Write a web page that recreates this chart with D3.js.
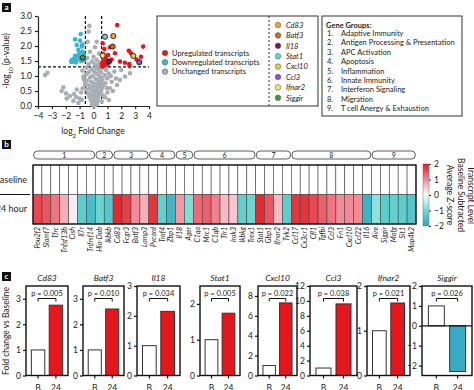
<!DOCTYPE html>
<html><head><meta charset="utf-8">
<script src="https://cdnjs.cloudflare.com/ajax/libs/d3/7.8.5/d3.min.js"></script>
<style>
body{margin:0;background:#fff;}
svg{display:block;font-family:Lato,"Open Sans",sans-serif;}
</style></head><body>
<svg id="fig" width="474" height="390"></svg>
<script>
// ---- panel a: volcano data (log2 FC, -log10 p) ----
var upPts = [[1.71,2.70],[0.66,2.09],[1.19,1.96],[2.55,1.84],[2.70,1.76],[3.58,1.98],[3.42,1.64],[1.91,1.48],[2.27,1.44],[2.58,1.40],[2.6,1.33],[1.55,1.76],[0.7,1.5],[0.8,1.42],[0.75,1.35],[0.9,1.55],[0.65,1.32],[1.0,1.38],[0.85,1.62],[0.95,1.45],[0.7,1.72],[1.3,1.55],[3.1,1.55],[0.78,1.9],[1.05,1.7],[0.6,1.4]];
var downPts = [[-0.92,2.40],[-1.33,2.22],[-0.97,2.18],[-1.21,2.03],[-0.85,1.98],[-1.09,1.87],[-0.78,1.81],[-1.0,1.76],[-1.33,1.67],[-1.57,1.53],[-1.45,1.48],[-1.2,1.56],[-0.97,1.6],[-0.65,1.53],[-1.1,1.7],[-1.4,1.58],[-0.7,1.72],[-1.25,1.45],[-0.9,1.5],[-0.8,2.05],[-1.6,1.47]];
var nsPts = [[0.0,0.02],[0.1,0.03],[0.2,0.05],[-0.1,0.06],[0.05,0.1],[0.15,0.12],[0.25,0.08],[-0.05,0.15],[0.3,0.18],[-0.2,0.2],[0.1,0.2],[0.2,0.25],
  [-0.3,0.3],[0.35,0.3],[0.0,0.32],[-0.15,0.35],[0.15,0.38],[0.45,0.4],[-0.4,0.42],[0.25,0.45],[-0.1,0.48],[0.05,0.5],[0.55,0.48],
  [-0.5,0.55],[0.3,0.55],[-0.25,0.58],[0.6,0.6],[0.15,0.62],[-0.05,0.65],[0.45,0.66],[-0.35,0.68],[0.7,0.7],[0.25,0.72],[-0.6,0.72],[0.05,0.75],[0.5,0.78],[-0.15,0.8],[0.85,0.76],
  [-0.45,0.85],[0.35,0.85],[0.65,0.88],[-0.7,0.9],[0.15,0.9],[1.0,0.92],[-0.25,0.95],[0.45,0.97],[-0.05,1.0],[0.8,1.02],[-0.55,1.05],[0.25,1.07],[1.1,1.08],[0.55,1.12],[-0.35,1.12],[0.05,1.15],[-0.8,1.18],[0.4,1.2],[0.9,1.2],[-0.15,1.22],[0.2,1.25],[-0.5,1.28],[0.65,1.28],
  [-0.3,2.67],[-0.35,2.48],[-0.42,2.14],[0.23,2.14],[0.11,1.96],[-0.25,1.81],[0.0,1.64],[0.23,1.53],[-0.35,1.40],[0.4,1.75],[-0.1,1.48],[0.3,1.35],[0.1,1.38],[-0.45,1.6],[0.45,1.45],
  [-3.49,1.03],[-3.32,1.11],[-2.17,0.62],[-2.3,0.5],[-1.98,0.42],[-1.69,0.33],[-1.4,0.4],[-1.26,0.3],[-1.0,0.25],[-1.93,0.25],[-1.45,0.17],[-1.09,0.1],[-0.78,0.59],[-0.61,0.81],[-0.73,0.98],[-0.9,0.45],[-1.2,0.55],[-0.85,0.2],
  [1.31,0.81],[1.62,0.92],[1.9,0.87],[2.27,0.98],[1.7,0.7],[1.18,0.59],[1.0,0.45],[1.4,0.5],[0.83,0.29],[2.63,1.09],[0.95,0.6],[1.25,1.0],[1.5,1.15],[0.7,0.35],[2.0,1.2],[1.1,0.2],[0.6,0.15]];
var hlGenes = ["Cd83","Batf3","Il18","Stat1","Cxcl10","Ccl3","Ifnar2","Siggir"];
var hlColors = ["#f5a23a","#d06a1e","#7a1452","#62d6c8","#c9d64a","#8a4fd6","#f2e468","#3f9b3a"];
var hlLogFC = [1.43,1.38,1.12,0.83,2.87,3.30,0.66,-0.78];
var hlLogP = [2.33,1.98,1.48,2.31,1.67,1.46,1.68,1.61];
var groupNames = ["Adaptive Immunity","Antigen Processing & Presentation","APC Activation","Apoptosis","Inflammation","Innate Immunity","Interferon Signaling","Migration","T cell Anergy & Exhaustion"];

// ---- panel b: heatmap ----
var heatGenes = ["Pou2f2","Slamf7","Tfrc","Tnfsf13b","Cish","Il7r","Tnfrsf14","Hla-Dob","Ikbkb","Cd83","Fcgr3","Batf3","Lamp3","Pycard","Traf4","Zbp1","Il18","Ager","C1qa","Mrc1","C1qb","Tlr1","Irak3","Ikbkg","Trex1","Stat1","Gbp1","Ifnar2","Tyk2","Ccl17","Cx3cr1","Cfl1","Tgfbi","Ccl3","Fn1","Cxcl10","Ccl22","Il16","Aire","Siggir","Mafg","Sit1","Map4k2"];
var groupSizes = [7,2,4,3,2,7,4,9,5];
var zBaseline = [0,0,0,0,0,0,0,0,0,0,0,0,0,0,0,0,0,0,0,0,0,0,0,0,0,0,0,0,0,0,0,0,0,0,0,0,0,0,0,0,0,0,0];
var z24h = [1.6,1.5,1.2,0.7,0.15,-1.3,-1.6,-1.1,-1.4,1.9,1.7,1.0,0.7,1.8,-1.2,-1.7,0.9,-0.9,1.3,1.4,1.1,0.6,0.5,-1.2,-1.1,1.9,1.5,0.6,-1.3,1.8,1.8,1.6,1.4,1.2,1.0,1.0,1.0,-1.8,-0.8,-1.3,-1.2,-1.3,-1.4];
var rowNames = ["Baseline","24 hour"];
var cbTicks = [2,1,0,-1,-2];

// ---- panel c: fold change bars ----
var barGenes = ["Cd83","Batf3","Il18","Stat1","Cxcl10","Ccl3","Ifnar2","Siggir"];
var barCats = ["B","24"];
var barBase = [1,1,1,1,1,1,1,1];
var bar24h = [2.75,2.6,2.15,1.74,7.3,9.6,1.62,-2.3];
var barP = ["0.005","0.010","0.034","0.005","0.022","0.038","0.021","0.026"];
var barMin = [0,0,0,0,0,0,0,-2.5];
var barMax = [3.5,3.5,3,2.5,9,12,2,2];
var barTicks = [[0,1,2,3],[0,1,2,3],[0,1,2,3],[0,1,2],[0,2,4,6,8],[0,2,4,6,8,10,12],[0,1,2],[-2,-1,0,1,2]];

// layout (pixels)
var boxL = [26,83,137,200,258,310,367,422];
var boxR = [68,124,180,240,297,357,410,472];

var red = "#e5171c", blue = "#3bb3d3", grey = "#a9aeb4";
var svg = d3.select("#fig");

function panelTag(x, y, t) {
  svg.append("rect").attr("x", x).attr("y", y).attr("width", 9).attr("height", 9).attr("fill", "#111");
  svg.append("text").attr("x", x + 4.5).attr("y", y + 7.3).attr("text-anchor", "middle")
    .attr("fill", "#fff").style("font-size", "8px").style("font-weight", "bold").text(t);
}

// ================= a =================
panelTag(2, 3, "a");
var vx = d3.scaleLinear().domain([-4, 4]).range([38, 149]);
var vy = d3.scaleLinear().domain([0, 3]).range([106, 16]);

var gx = svg.append("g").attr("transform", "translate(0,106)")
  .call(d3.axisBottom(vx).tickValues(d3.range(-4, 5)).tickSize(3).tickSizeOuter(0).tickFormat(d3.format("d")));
var gy = svg.append("g").attr("transform", "translate(38,0)")
  .call(d3.axisLeft(vy).tickValues([0,0.5,1,1.5,2,2.5,3]).tickSize(3).tickSizeOuter(0).tickFormat(d3.format(".1f")));
[gx, gy].forEach(function(g) {
  g.selectAll("path,line").attr("stroke", "#222").attr("stroke-width", 1.2);
  g.selectAll("text").style("font-size", "8.5px").style("font-family", "Lato").attr("fill", "#222");
});
gx.selectAll("text").attr("dy", "0.85em");

// dashed thresholds
svg.append("line").attr("x1", vx(-4)).attr("x2", vx(4)).attr("y1", vy(1.301)).attr("y2", vy(1.301))
  .attr("stroke", "#111").attr("stroke-width", 1.2).attr("stroke-dasharray", "3,2");
[-0.585, 0.585].forEach(function(v) {
  svg.append("line").attr("x1", vx(v)).attr("x2", vx(v)).attr("y1", vy(3)).attr("y2", vy(0))
    .attr("stroke", "#111").attr("stroke-width", 1.2).attr("stroke-dasharray", "3,2");
});

function dots(data, col) {
  svg.append("g").selectAll("circle").data(data).enter().append("circle")
    .attr("cx", function(d) { return vx(d[0]); })
    .attr("cy", function(d) { return vy(d[1]); })
    .attr("r", 2.3).attr("fill", col);
}
dots(nsPts, grey);
dots(downPts, blue);
dots(upPts, red);
svg.append("g").selectAll("circle").data(hlGenes).enter().append("circle")
  .attr("cx", function(d, i) { return vx(hlLogFC[i]); })
  .attr("cy", function(d, i) { return vy(hlLogP[i]); })
  .attr("r", 2.6).attr("fill", function(d, i) { return hlColors[i]; })
  .attr("stroke", "#2a1a1a").attr("stroke-width", 0.9);

var ylab = svg.append("text").attr("transform", "translate(9,61) rotate(-90)")
  .attr("text-anchor", "middle").style("font-size", "8.5px").attr("fill", "#222");
ylab.append("tspan").text("-log");
ylab.append("tspan").attr("baseline-shift", "sub").style("font-size", "6px").text("10");
ylab.append("tspan").text(" (p-value)");
var xlab = svg.append("text").attr("x", 93).attr("y", 134).attr("text-anchor", "middle")
  .style("font-size", "8.5px").attr("fill", "#222");
xlab.append("tspan").text("log");
xlab.append("tspan").attr("baseline-shift", "sub").style("font-size", "6px").text("2");
xlab.append("tspan").text(" Fold Change");

// legend box
svg.append("rect").attr("x", 157).attr("y", 16).attr("width", 161).attr("height", 90)
  .attr("fill", "none").attr("stroke", "#333").attr("stroke-width", 1);
svg.append("line").attr("x1", 269).attr("x2", 269).attr("y1", 16).attr("y2", 106)
  .attr("stroke", "#333").attr("stroke-dasharray", "2,2");
var legA = [["Upregulated transcripts", red], ["Downregulated transcripts", blue], ["Unchanged transcripts", grey]];
legA.forEach(function(d, i) {
  var y = 53 + i * 9.3;
  svg.append("circle").attr("cx", 165).attr("cy", y).attr("r", 2.8).attr("fill", d[1]).attr("stroke", "#555").attr("stroke-width", 0.5);
  svg.append("text").attr("x", 172).attr("y", y + 2.7).style("font-size", "7.5px").attr("fill", "#222").text(d[0]);
});
hlGenes.forEach(function(g, i) {
  var y = 25 + i * 10.4;
  svg.append("circle").attr("cx", 278).attr("cy", y).attr("r", 2.8).attr("fill", hlColors[i]).attr("stroke", "#555").attr("stroke-width", 0.5);
  svg.append("text").attr("x", 286).attr("y", y + 2.7).style("font-size", "7.5px").style("font-style", "italic")
    .attr("fill", "#222").text(g);
});

// gene groups box
svg.append("rect").attr("x", 322).attr("y", 16).attr("width", 140).attr("height", 100)
  .attr("fill", "none").attr("stroke", "#333").attr("stroke-width", 1);
svg.append("text").attr("x", 326).attr("y", 27.5).style("font-size", "7.5px").style("font-weight", "bold")
  .attr("fill", "#222").text("Gene Groups:");
groupNames.forEach(function(g, i) {
  var y = 36 + i * 9.4;
  svg.append("text").attr("x", 327).attr("y", y).style("font-size", "7.5px").attr("fill", "#222").text((i + 1) + ".");
  svg.append("text").attr("x", 341).attr("y", y).style("font-size", "7.5px").attr("fill", "#222").text(g);
});

// ================= b =================
panelTag(2, 140, "b");
var hx = d3.scaleBand().domain(heatGenes).range([33, 416]);
var hy = d3.scaleBand().domain(rowNames).range([165, 224]);
var zcol = d3.scaleLinear().domain([-2, -1, 0, 1, 2])
  .range(["#2fa9c2", "#6fdbd0", "#ffffff", "#f48a98", "#e31e26"]).clamp(true);

var cells = [];
heatGenes.forEach(function(g, i) {
  cells.push({gene: g, row: rowNames[0], z: zBaseline[i]});
  cells.push({gene: g, row: rowNames[1], z: z24h[i]});
});
svg.append("g").selectAll("rect").data(cells).enter().append("rect")
  .attr("x", function(d) { return hx(d.gene); })
  .attr("y", function(d) { return hy(d.row); })
  .attr("width", hx.bandwidth()).attr("height", hy.bandwidth())
  .attr("fill", function(d) { return zcol(d.z); })
  .attr("stroke", "#444").attr("stroke-width", 0.6);
svg.append("rect").attr("x", 33).attr("y", 165).attr("width", 383).attr("height", 59)
  .attr("fill", "none").attr("stroke", "#111").attr("stroke-width", 1.3);

rowNames.forEach(function(r) {
  svg.append("text").attr("x", 27).attr("y", hy(r) + hy.bandwidth() / 2 + 3.2)
    .attr("text-anchor", "end").style("font-size", "9px").attr("fill", "#222").text(r);
});
svg.append("line").attr("x1", 0).attr("x2", 30).attr("y1", 194.5).attr("y2", 194.5).attr("stroke", "#111").attr("stroke-width", 1);

svg.append("g").selectAll("text").data(heatGenes).enter().append("text")
  .attr("transform", function(d) { return "translate(" + (hx(d) + hx.bandwidth() / 2 + 2.4) + ",227) rotate(-90)"; })
  .attr("text-anchor", "end").style("font-size", "7px").style("font-style", "italic").attr("fill", "#222")
  .text(function(d) { return d; });

// group pills
var start = 0;
groupSizes.forEach(function(n, gi) {
  var x0 = hx(heatGenes[start]) + 0.6, x1 = hx(heatGenes[start + n - 1]) + hx.bandwidth() - 0.6;
  svg.append("rect").attr("x", x0).attr("y", 151).attr("width", x1 - x0).attr("height", 8).attr("rx", 4)
    .attr("fill", "#fff").attr("stroke", "#333").attr("stroke-width", 0.8);
  svg.append("text").attr("x", (x0 + x1) / 2).attr("y", 157.8).attr("text-anchor", "middle")
    .style("font-size", "7px").attr("fill", "#222").text(gi + 1);
  start += n;
});

// colour bar
var cbY = d3.scaleLinear().domain([2, -2]).range([164, 226]);
var grad = svg.append("defs").append("linearGradient").attr("id", "cb").attr("x1", 0).attr("x2", 0).attr("y1", 0).attr("y2", 1);
[2, 1, 0, -1, -2].forEach(function(v, i) {
  grad.append("stop").attr("offset", (i / 4)).attr("stop-color", zcol(v));
});
svg.append("rect").attr("x", 423).attr("y", 164).attr("width", 6).attr("height", 62)
  .attr("fill", "url(#cb)").attr("stroke", "#555").attr("stroke-width", 0.4);
var cbAxis = svg.append("g").attr("transform", "translate(429,0)")
  .call(d3.axisRight(cbY).tickValues(cbTicks).tickSize(2).tickSizeOuter(0).tickFormat(d3.format("d")));
cbAxis.select(".domain").remove();
cbAxis.selectAll("line").attr("stroke", "#333");
cbAxis.selectAll("text").style("font-size", "8.5px").style("font-family", "Lato").attr("fill", "#222");
var cbTitle = ["Transcript Level", "Baseline Subtracted", "Average Z-score"];
cbTitle.forEach(function(t, i) {
  svg.append("text").attr("transform", "translate(" + (468 - i * 10.5) + ",195) rotate(90)")
    .attr("text-anchor", "middle").style("font-size", "8.5px").attr("fill", "#222").text(t);
});

// ================= c =================
panelTag(2, 272, "c");
var yTop = 286, yBot = 375.5;
barGenes.forEach(function(g, i) {
  var l = boxL[i], r = boxR[i];
  var xb = d3.scaleBand().domain(barCats).range([l, r]).paddingInner(0.25).paddingOuter(0.3);
  var yb = d3.scaleLinear().domain([barMin[i], barMax[i]]).range([yBot, yTop]);
  var gc = svg.append("g");
  var vals = [barBase[i], bar24h[i]];
  gc.selectAll("rect.bar").data(barCats).enter().append("rect").attr("class", "bar")
    .attr("x", function(d) { return xb(d); })
    .attr("width", xb.bandwidth())
    .attr("y", function(d, k) { return Math.min(yb(vals[k]), yb(0)); })
    .attr("height", function(d, k) { return Math.abs(yb(vals[k]) - yb(0)); })
    .attr("fill", function(d, k) { return k === 0 ? "#fff" : (vals[k] < 0 ? "#3aabc6" : red); })
    .attr("stroke", "#333").attr("stroke-width", 1);
  if (barMin[i] < 0) {
    gc.append("line").attr("x1", l).attr("x2", r).attr("y1", yb(0)).attr("y2", yb(0)).attr("stroke", "#111").attr("stroke-width", 1.3);
  }
  gc.append("rect").attr("x", l).attr("y", yTop).attr("width", r - l).attr("height", yBot - yTop)
    .attr("fill", "none").attr("stroke", "#111").attr("stroke-width", 1.4);
  var ax = gc.append("g").attr("transform", "translate(" + l + ",0)")
    .call(d3.axisLeft(yb).tickValues(barTicks[i]).tickSize(3).tickSizeOuter(0).tickFormat(d3.format("d")));
  var bx = gc.append("g").attr("transform", "translate(0," + yBot + ")")
    .call(d3.axisBottom(xb).tickSize(3).tickSizeOuter(0));
  [ax, bx].forEach(function(a) {
    a.select(".domain").remove();
    a.selectAll("line").attr("stroke", "#111").attr("stroke-width", 1.2);
    a.selectAll("text").style("font-size", "8.5px").style("font-family", "Lato").attr("fill", "#222");
  });
  ax.selectAll("text").attr("dx", "0.1em");
  bx.selectAll("text").attr("dy", "1.1em");
  // title
  gc.append("text").attr("x", (l + r) / 2).attr("y", 281).attr("text-anchor", "middle")
    .style("font-size", "8.5px").style("font-style", "italic").attr("fill", "#222").text(g);
  // p bracket
  var c0 = xb("B") + xb.bandwidth() / 2, c1 = xb("24") + xb.bandwidth() / 2;
  gc.append("path").attr("d", "M" + c0 + ",301.5V298.5H" + c1 + "V301.5")
    .attr("fill", "none").attr("stroke", "#111").attr("stroke-width", 1);
  gc.append("text").attr("x", (l + r) / 2).attr("y", 296).attr("text-anchor", "middle")
    .style("font-size", "7.5px").attr("fill", "#222").text("p = " + barP[i]);
});
svg.append("text").attr("transform", "translate(9,331) rotate(-90)").attr("text-anchor", "middle")
  .style("font-size", "8.5px").attr("fill", "#222").text("Fold change vs Baseline");
</script></body></html>
